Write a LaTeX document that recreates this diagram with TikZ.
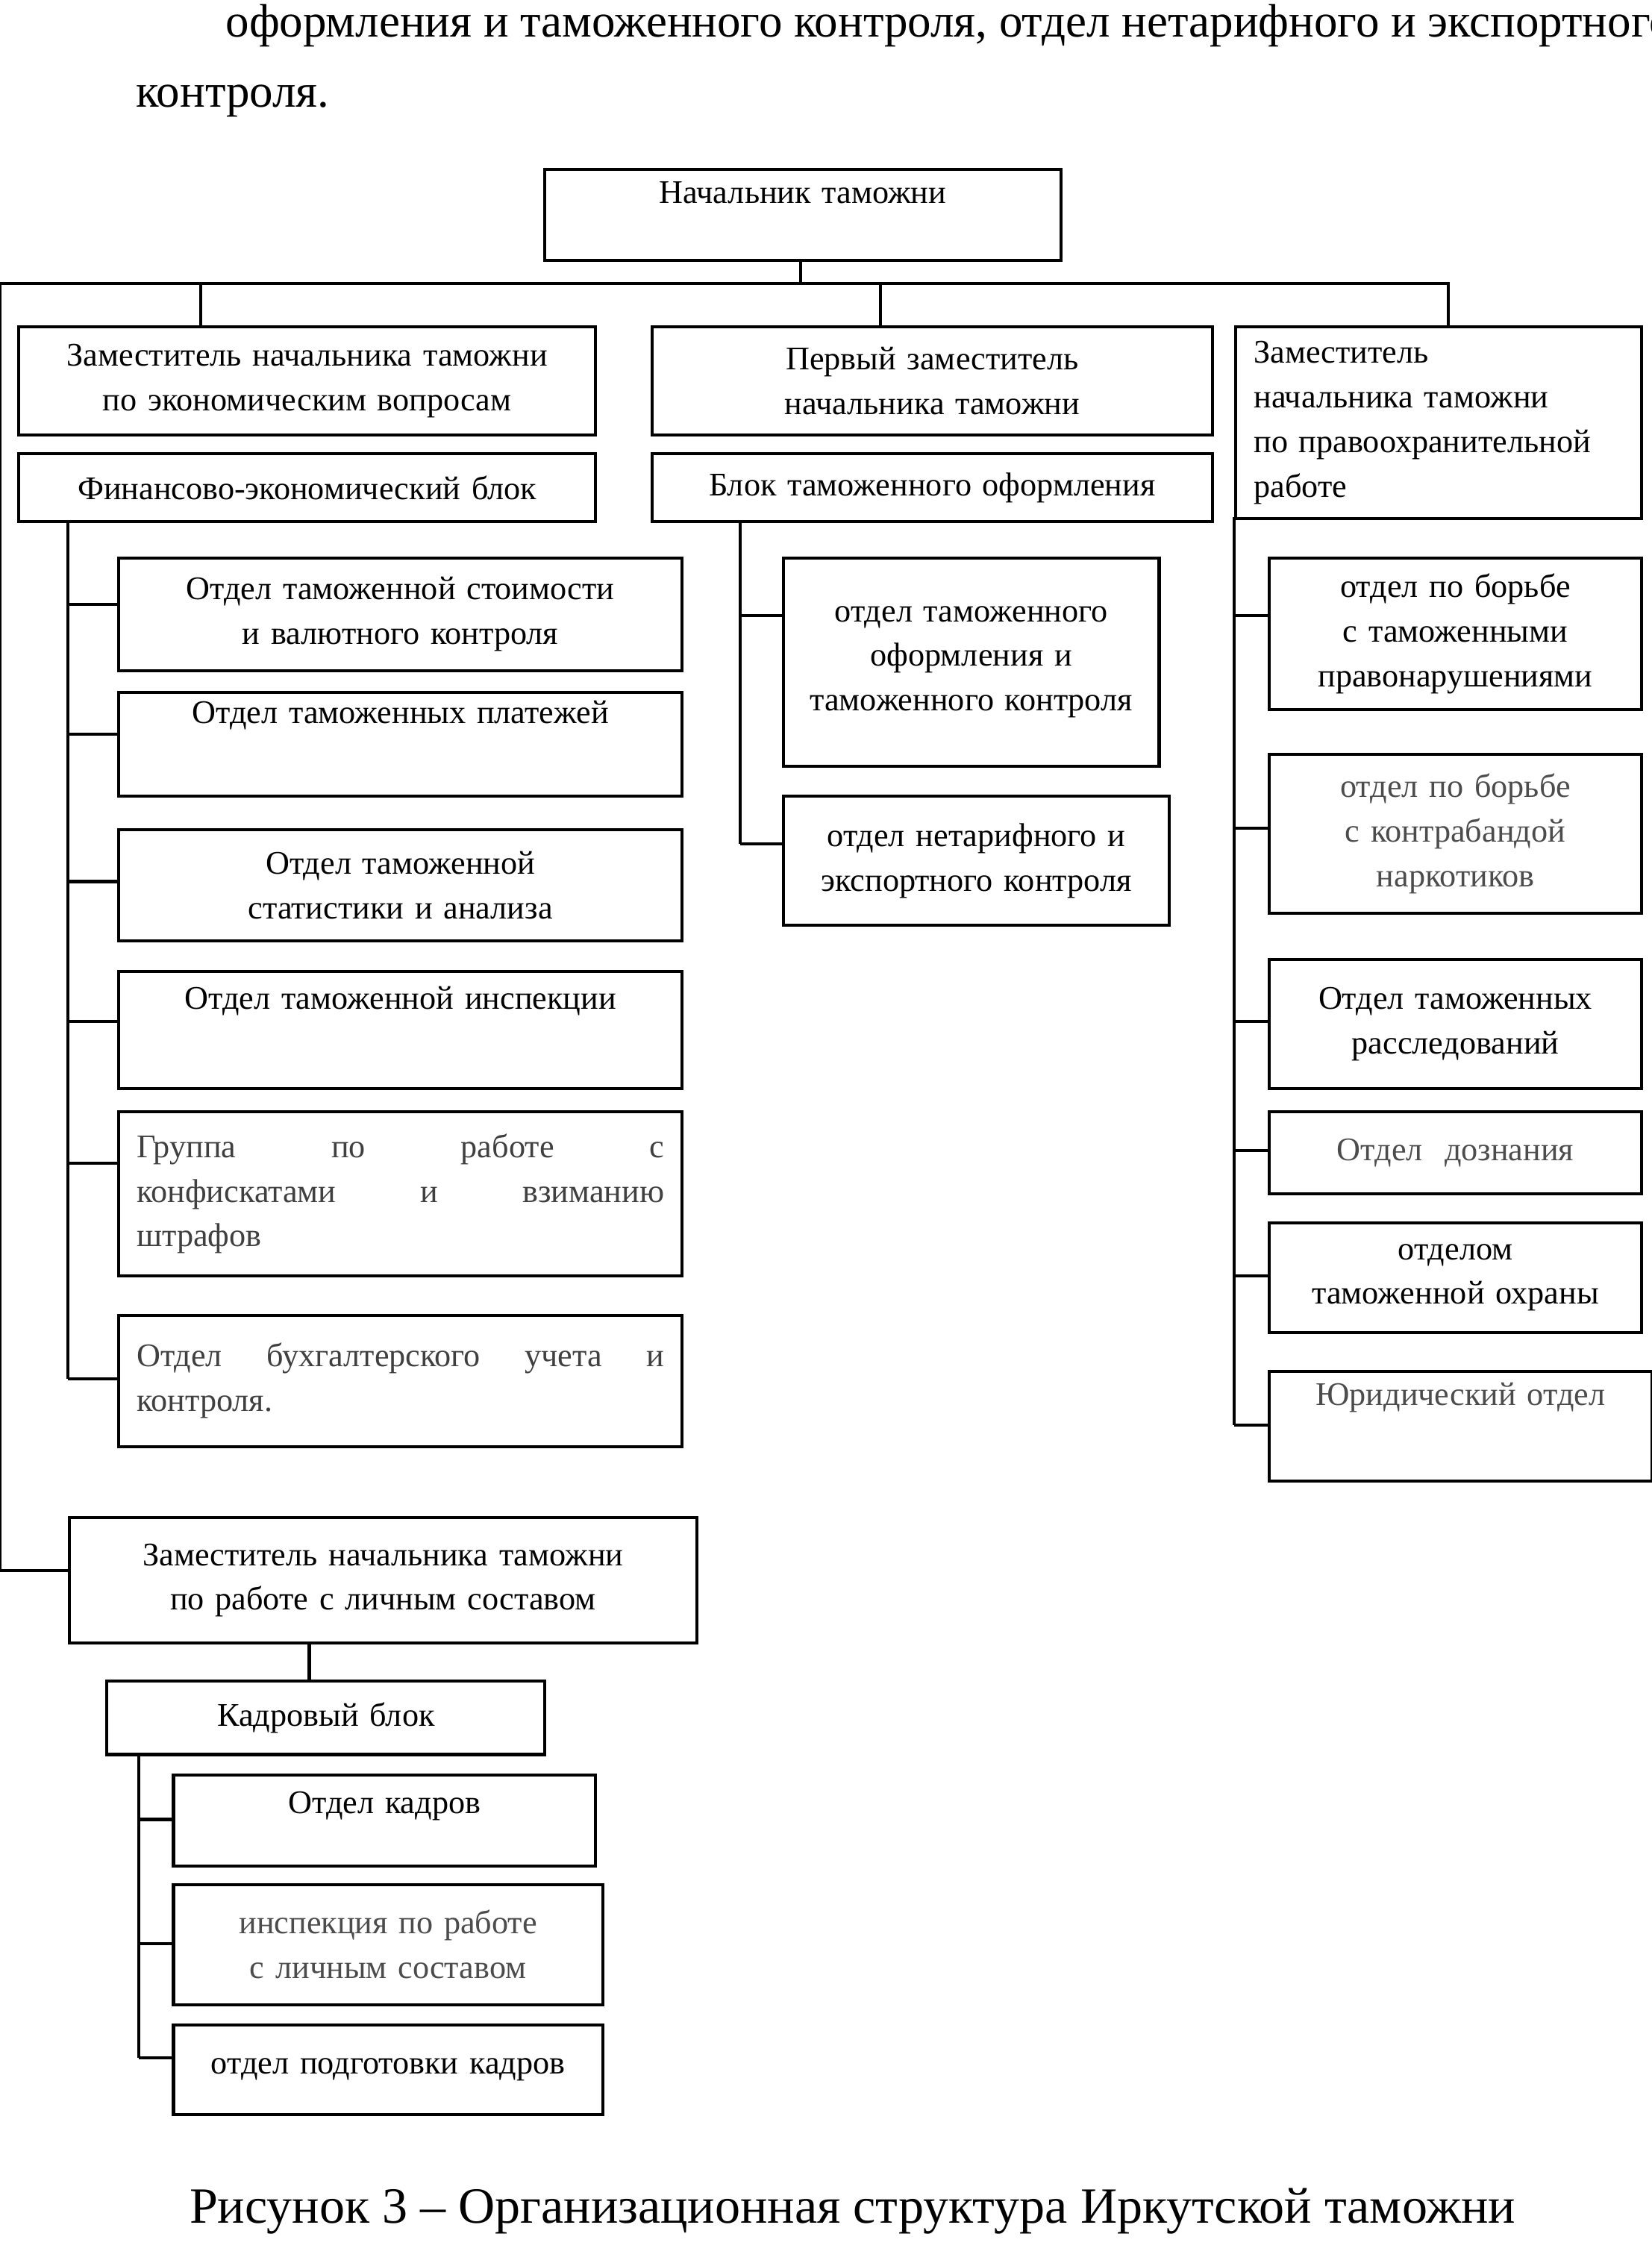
\documentclass[tikz,border=0pt]{standalone}
\usepackage{fontspec}
\setmainfont{Liberation Serif}
\tikzset{bx/.style={draw,line width=1.2pt,inner sep=0pt},
 ln/.style={line width=1.2pt},
 tx/.style={font=\fontsize{13}{17.6}\selectfont,align=center}}
% \B{name}{x1}{y1}{x2}{y2}{options}{text}
\newcommand\B[7]{%
 \node[bx,anchor=north west,minimum width={(#4-#2)*0.02cm},minimum height={(#5-#3)*0.02cm}] (#1) at (#2,#3) {};
 \node[tx,text width={(#4-#2)*0.02cm-0.5cm},#6] (#1t) at (#1) {#7};}
\begin{document}
\begin{tikzpicture}[x=0.02cm,y=-0.02cm]
\useasboundingbox (0,0) rectangle (1143,1568);
\node[font=\fontsize{18.5}{27}\selectfont,anchor=west] (t1) at (150,18) {оформления и таможенного контроля, отдел нетарифного и экспортного};
\node[font=\fontsize{18.5}{27}\selectfont,anchor=west] (t2) at (88,70) {контроля.};
\B{boss}{376}{116}{733}{179}{yshift=0.3cm}{Начальник таможни}
\B{A}{12}{225}{411}{300}{}{Заместитель начальника таможни по экономическим вопросам}
\B{Bb}{450}{225}{838}{300}{}{Первый заместитель начальника таможни}
\B{C}{854}{225}{1135}{358}{align=left}{Заместитель начальника таможни по правоохранительной работе}
\B{F}{12}{313}{411}{360}{}{Финансово-экономический блок}
\B{G}{450}{313}{838}{360}{}{Блок таможенного оформления}
\B{L1}{81}{385}{471}{463}{}{Отдел таможенной стоимости и валютного контроля}
\B{L2}{81}{478}{471}{550}{yshift=0.4cm}{Отдел таможенных платежей}
\B{L3}{81}{573}{471}{650}{}{Отдел таможенной статистики и анализа}
\B{L4}{81}{671}{471}{752}{yshift=0.4cm}{Отдел таможенной инспекции}
\B{L5}{81}{768}{471}{882}{align=justify,text=black!75}{Группа \hfill по \hfill работе \hfill с\break конфискатами \hfill и \hfill взиманию\break штрафов}
\B{L6}{81}{909}{471}{1000}{align=justify,text=black!75}{Отдел бухгалтерского учета и контроля.}
\B{M1}{541}{385}{801}{529}{}{отдел таможенного оформления и таможенного контроля}
\B{M2}{541}{550}{808}{639}{}{отдел нетарифного и экспортного контроля}
\B{R1}{877}{385}{1135}{490}{}{отдел по борьбе с таможенными правонарушениями}
\B{R2}{877}{521}{1135}{631}{text=black!70}{отдел по борьбе с контрабандой наркотиков}
\B{R3}{877}{663}{1135}{752}{}{Отдел таможенных расследований}
\B{R4}{877}{768}{1135}{825}{text=black!70}{Отдел \ дознания}
\B{R5}{877}{845}{1135}{921}{}{отделом таможенной охраны}
\B{R6}{877}{948}{1142}{1024}{yshift=0.4cm,text=black!70}{Юридический отдел}
\B{D}{47}{1049}{481}{1136}{}{Заместитель начальника таможни по работе с личным составом}
\B{K}{73}{1162}{376}{1213}{}{Кадровый блок}
\B{K1}{119}{1227}{411}{1290}{yshift=0.2cm}{Отдел кадров}
\B{K2}{119}{1303}{416}{1386}{text=black!70}{инспекция по работе с личным составом}
\B{K3}{119}{1400}{416}{1462}{}{отдел подготовки кадров}
\node[font=\fontsize{20}{27}\selectfont] (cap) at (590,1530) {Рисунок 3 – Организационная структура Иркутской таможни};
% connectors
\draw[ln] (554,179) -- (554,196);
\draw[ln] (47,1087) -- (0,1087) -- (0,196) -- (1002,196) -- (1002,225);
\draw[ln] (139,196) -- (139,225);
\draw[ln] (609,196) -- (609,225);
\draw[ln] (47,360) -- (47,954);
\foreach \y/\n in {418/L1,508/L2,610/L3,707/L4,805/L5,954/L6} \draw[ln] (47,\y) -- (81,\y);
\draw[ln] (512,360) -- (512,584);
\foreach \y/\n in {426/M1,584/M2} \draw[ln] (512,\y) -- (541,\y);
\draw[ln] (854,358) -- (854,986);
\foreach \y/\n in {426/R1,573/R2,707/R3,796/R4,883/R5,986/R6} \draw[ln] (854,\y) -- (877,\y);
\draw[ln] (214,1136) -- (214,1162);
\draw[ln] (96,1213) -- (96,1424);
\foreach \y/\n in {1259/K1,1345/K2,1424/K3} \draw[ln] (96,\y) -- (119,\y);
\end{tikzpicture}
\end{document}
